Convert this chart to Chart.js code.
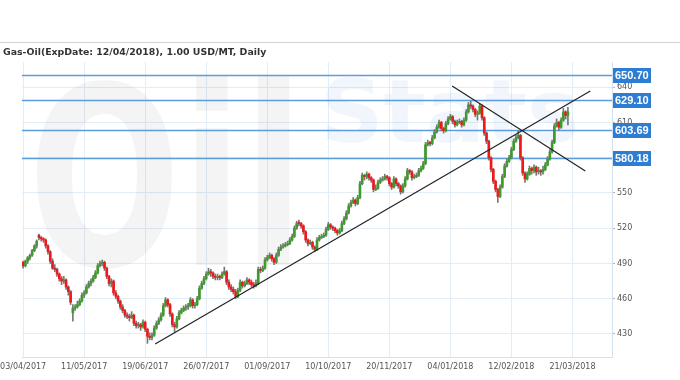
<!DOCTYPE html>
<html>
<head>
<meta charset="utf-8">
<script src="https://cdn.jsdelivr.net/npm/chart.js@4.4.1/dist/chart.umd.min.js"></script>
<style>
  html, body { margin: 0; padding: 0; background: #fff; }
  #wrap { position: relative; width: 680px; height: 380px; }
  #wrap canvas { position: absolute; left: 0; top: 0; }
  #sep { position: absolute; left: 0; top: 42px; width: 680px; border-top: 1px solid #d2d2d2; }
  #title { position: absolute; left: 3px; top: 46px; font: bold 9.4px "DejaVu Sans", sans-serif; color: #333; white-space: nowrap; }
</style>
</head>
<body>
<div id="wrap">
  <canvas id="chart" width="680" height="380"></canvas>
  <div id="sep"></div>
  <div id="title">Gas-Oil(ExpDate: 12/04/2018), 1.00 USD/MT, Daily</div>
</div>
<script>
// daily OHLC, one entry per trading day (03/04/2017 .. late 03/2018)
const opens = [
  491,488,492,495,497,501,505,514,512,511,510,505,500,492,486,485,481,477,475,476,
  470,466,448,452,453,455,458,463,465,470,473,475,478,482,488,490,491,486,479,473,
  475,465,462,458,453,450,446,445,444,446,439,437,438,436,440,434,428,427,429,435,
  439,442,446,454,459,455,447,438,436,443,448,450,452,453,454,459,454,455,460,469,
  473,477,481,483,482,479,478,479,478,481,483,474,470,468,466,462,467,474,471,473,
  476,474,472,471,473,485,484,486,493,495,497,494,491,497,502,504,505,506,507,510,
  513,520,525,524,522,517,510,507,508,504,502,510,512,513,514,519,523,521,520,518,
  516,518,524,528,533,539,542,544,541,546,558,565,564,566,563,561,553,554,559,561,
  562,564,563,558,555,562,558,556,551,556,562,569,568,563,564,565,569,571,575,591,
  593,592,597,602,606,610,605,603,609,613,615,611,608,610,611,608,612,619,625,624,
  621,617,618,624,614,601,594,580,570,560,553,547,555,564,573,577,580,587,594,597,
  599,580,567,562,566,571,569,572,568,569,568,570,574,579,585,593,607,610,606,612,619,616
];
const highs = [
  492,493,496,498,502,506,510,515,513,512,511,506,501,494,489,486,482,479,479,477,
  471,467,455,455,458,460,465,467,472,475,477,480,484,490,492,493,492,487,480,477,
  476,467,463,459,455,451,448,447,449,447,441,440,439,442,441,435,431,431,437,441,
  444,448,456,461,460,456,448,440,445,450,452,454,455,456,461,460,457,462,471,475,
  479,483,486,485,483,481,481,480,483,487,484,476,472,470,468,469,476,475,475,478,
  477,476,474,476,487,487,488,495,497,499,498,495,499,504,506,507,508,509,512,515,
  522,526,527,525,523,518,511,510,509,505,512,514,515,516,521,525,524,522,521,519,
  520,526,530,535,541,544,546,545,548,560,567,566,568,567,564,562,557,561,563,564,
  566,565,564,559,564,563,559,557,558,564,571,570,569,566,567,571,573,577,593,595,
  594,599,604,608,612,611,606,611,615,617,616,612,612,613,612,614,621,627,628,625,
  622,620,626,625,615,602,595,581,571,561,554,557,566,575,579,582,589,596,599,603,
  600,581,568,568,573,572,574,573,572,570,573,576,581,587,595,609,613,611,614,622,620,623
];
const lows = [
  486,487,490,493,496,500,503,510,509,508,503,498,490,485,483,479,475,472,473,468,
  463,455,441,450,452,454,457,461,464,469,471,474,477,481,487,488,484,477,471,470,
  463,460,456,451,448,444,443,441,443,437,435,435,433,435,432,422,425,425,428,434,
  438,441,445,453,453,445,436,432,435,442,447,449,450,451,453,452,452,454,459,468,
  472,476,480,479,477,476,476,476,477,480,472,468,466,464,460,461,466,469,470,472,
  472,470,469,470,472,482,483,485,492,494,492,489,490,496,501,503,504,505,506,509,
  512,519,522,520,515,508,505,506,502,500,501,509,511,512,513,518,519,518,516,514,
  515,517,523,527,532,538,541,539,540,545,557,561,562,561,559,551,552,553,558,560,
  561,561,556,553,554,556,554,549,550,555,561,566,561,562,563,564,568,570,574,590,
  590,591,596,601,605,603,601,602,608,612,609,606,607,609,606,607,611,618,622,619,
  615,612,617,612,599,592,578,568,558,551,542,546,554,563,572,576,579,586,593,596,
  578,565,559,561,565,566,567,565,566,565,566,569,573,578,584,592,606,603,605,611,613,608
];
const closes = [
  488,492,495,497,501,505,509,512,511,510,505,500,492,486,485,481,477,475,476,470,
  466,457,452,453,455,458,463,465,470,473,475,478,482,488,490,491,486,479,473,475,
  465,462,458,453,450,446,445,444,446,439,437,438,436,440,434,428,427,429,435,439,
  442,446,454,459,455,447,438,436,443,448,450,452,453,454,459,454,455,460,469,473,
  477,481,483,482,479,478,479,478,481,483,474,470,468,466,462,467,474,471,473,476,
  474,472,471,473,485,484,486,493,495,497,494,491,497,502,504,505,506,507,510,513,
  520,524,524,522,517,510,507,508,504,502,510,512,513,514,519,523,521,520,518,516,
  518,524,528,533,539,542,544,541,546,558,565,564,566,563,561,553,554,559,561,562,
  564,563,558,555,562,558,556,551,556,562,569,568,563,564,565,569,571,575,591,593,
  592,597,602,606,610,605,603,609,613,615,611,608,610,611,608,612,619,625,624,621,
  617,618,624,614,601,594,580,570,560,553,547,555,564,573,577,580,587,594,597,599,
  580,567,562,566,571,569,572,568,569,568,570,574,579,585,593,607,610,606,612,619,616,619
];

// x axis: trading-day index of each date label
const tickIdx = [0, 27, 54, 81, 108, 135, 162, 189, 216, 243];
const tickLabels = ['03/04/2017', '11/05/2017', '19/06/2017', '26/07/2017', '01/09/2017',
  '10/10/2017', '20/11/2017', '04/01/2018', '12/02/2018', '21/03/2018'];
const yTicks = [430, 460, 490, 520, 550, 580, 610, 640];

// horizontal price levels (blue lines with boxes)
const levels = [650.70, 629.10, 603.69, 580.18];

// hand-drawn trend lines, in (day index, price)
const trendUp = [{ x: 58.4, y: 421.5 }, { x: 250.9, y: 636.8 }];
const trendDown = [{ x: 189.8, y: 641.0 }, { x: 248.7, y: 568.7 }];

const UP = '#3f9a2e';
const DOWN = '#f2161c';

const bodyData = opens.map((o, i) => ({ x: i, y: [o, closes[i]] }));
const wickData = lows.map((l, i) => ({ x: i, y: [l, highs[i]] }));
const bodyColors = opens.map((o, i) => closes[i] >= o ? UP : DOWN);

const FONT = 'DejaVu Sans';

const decor = {
  id: 'decor',
  beforeDatasetsDraw(chart) {
    const { ctx, chartArea: a, scales } = chart;
    ctx.save();
    ctx.beginPath();
    ctx.rect(a.left, a.top, a.right - a.left, a.bottom - a.top);
    ctx.clip();
    // faint logo watermark
    ctx.save();
    ctx.fillStyle = 'rgba(0,0,0,0.045)';
    ctx.font = 'bold 250px "' + FONT + '"';
    ctx.translate(28, 265);
    ctx.scale(0.72, 1);
    ctx.fillText('Oil', 0, 0);
    ctx.restore();
    ctx.fillStyle = 'rgba(60,140,220,0.08)';
    ctx.font = 'bold 88px "' + FONT + '"';
    ctx.fillText('Stats', 320, 142);
    ctx.restore();

    // level lines
    ctx.save();
    ctx.strokeStyle = '#5d9ddb';
    ctx.lineWidth = 1.5;
    levels.forEach(v => {
      const y = Math.round(scales.y.getPixelForValue(v)) + 0.5;
      ctx.beginPath();
      ctx.moveTo(a.left, y);
      ctx.lineTo(a.right, y);
      ctx.stroke();
    });
    ctx.restore();
  },
  afterDraw(chart) {
    const { ctx, chartArea: a, scales } = chart;
    ctx.save();
    ctx.font = 'bold 11px "Liberation Sans"';
    ctx.textBaseline = 'middle';
    levels.forEach(v => {
      const y = Math.round(scales.y.getPixelForValue(v));
      ctx.fillStyle = '#2d7dd2';
      ctx.fillRect(a.right + 1, y - 7, 38, 15);
      ctx.fillStyle = '#fff';
      ctx.fillText(v.toFixed(2), a.right + 3, y + 1);
    });
    ctx.restore();
  }
};

new Chart(document.getElementById('chart'), {
  type: 'bar',
  data: {
    datasets: [
      { type: 'line', data: trendUp, borderColor: '#222', borderWidth: 1.2, pointRadius: 0, order: 0 },
      { type: 'line', data: trendDown, borderColor: '#222', borderWidth: 1.2, pointRadius: 0, order: 0 },
      { data: bodyData, backgroundColor: bodyColors, barThickness: 2, grouped: false, order: 1 },
      { data: wickData, backgroundColor: '#777', barThickness: 1, grouped: false, order: 2 }
    ]
  },
  options: {
    responsive: false,
    animation: false,
    devicePixelRatio: 1,
    layout: { padding: { left: 22, top: 62, right: 0, bottom: 0 } },
    plugins: { legend: { display: false }, tooltip: { enabled: false } },
    scales: {
      x: {
        type: 'linear', min: -0.5, max: 260.5, offset: false,
        afterBuildTicks: s => { s.ticks = tickIdx.map(v => ({ value: v })); },
        afterFit: s => { s.height = 23; s.paddingLeft = 0; s.paddingRight = 0; },
        grid: { color: '#e3edf7', drawTicks: false, offset: false },
        border: { color: '#d3e2f1' },
        ticks: {
          color: '#555', font: { family: FONT, size: 8 }, padding: 5,
          maxRotation: 0, autoSkip: false,
          callback: (v, i) => tickLabels[i]
        }
      },
      y: {
        position: 'right', min: 410.4, max: 661.5,
        afterBuildTicks: s => { s.ticks = yTicks.map(v => ({ value: v })); },
        afterFit: s => { s.width = 68; s.paddingTop = 0; s.paddingBottom = 0; },
        grid: { color: '#e3edf7', tickColor: '#b5b5b5', tickLength: 3 },
        border: { color: '#d3e2f1' },
        ticks: { color: '#555', font: { family: FONT, size: 8 }, padding: 2 }
      }
    }
  },
  plugins: [decor]
});
</script>
</body>
</html>
